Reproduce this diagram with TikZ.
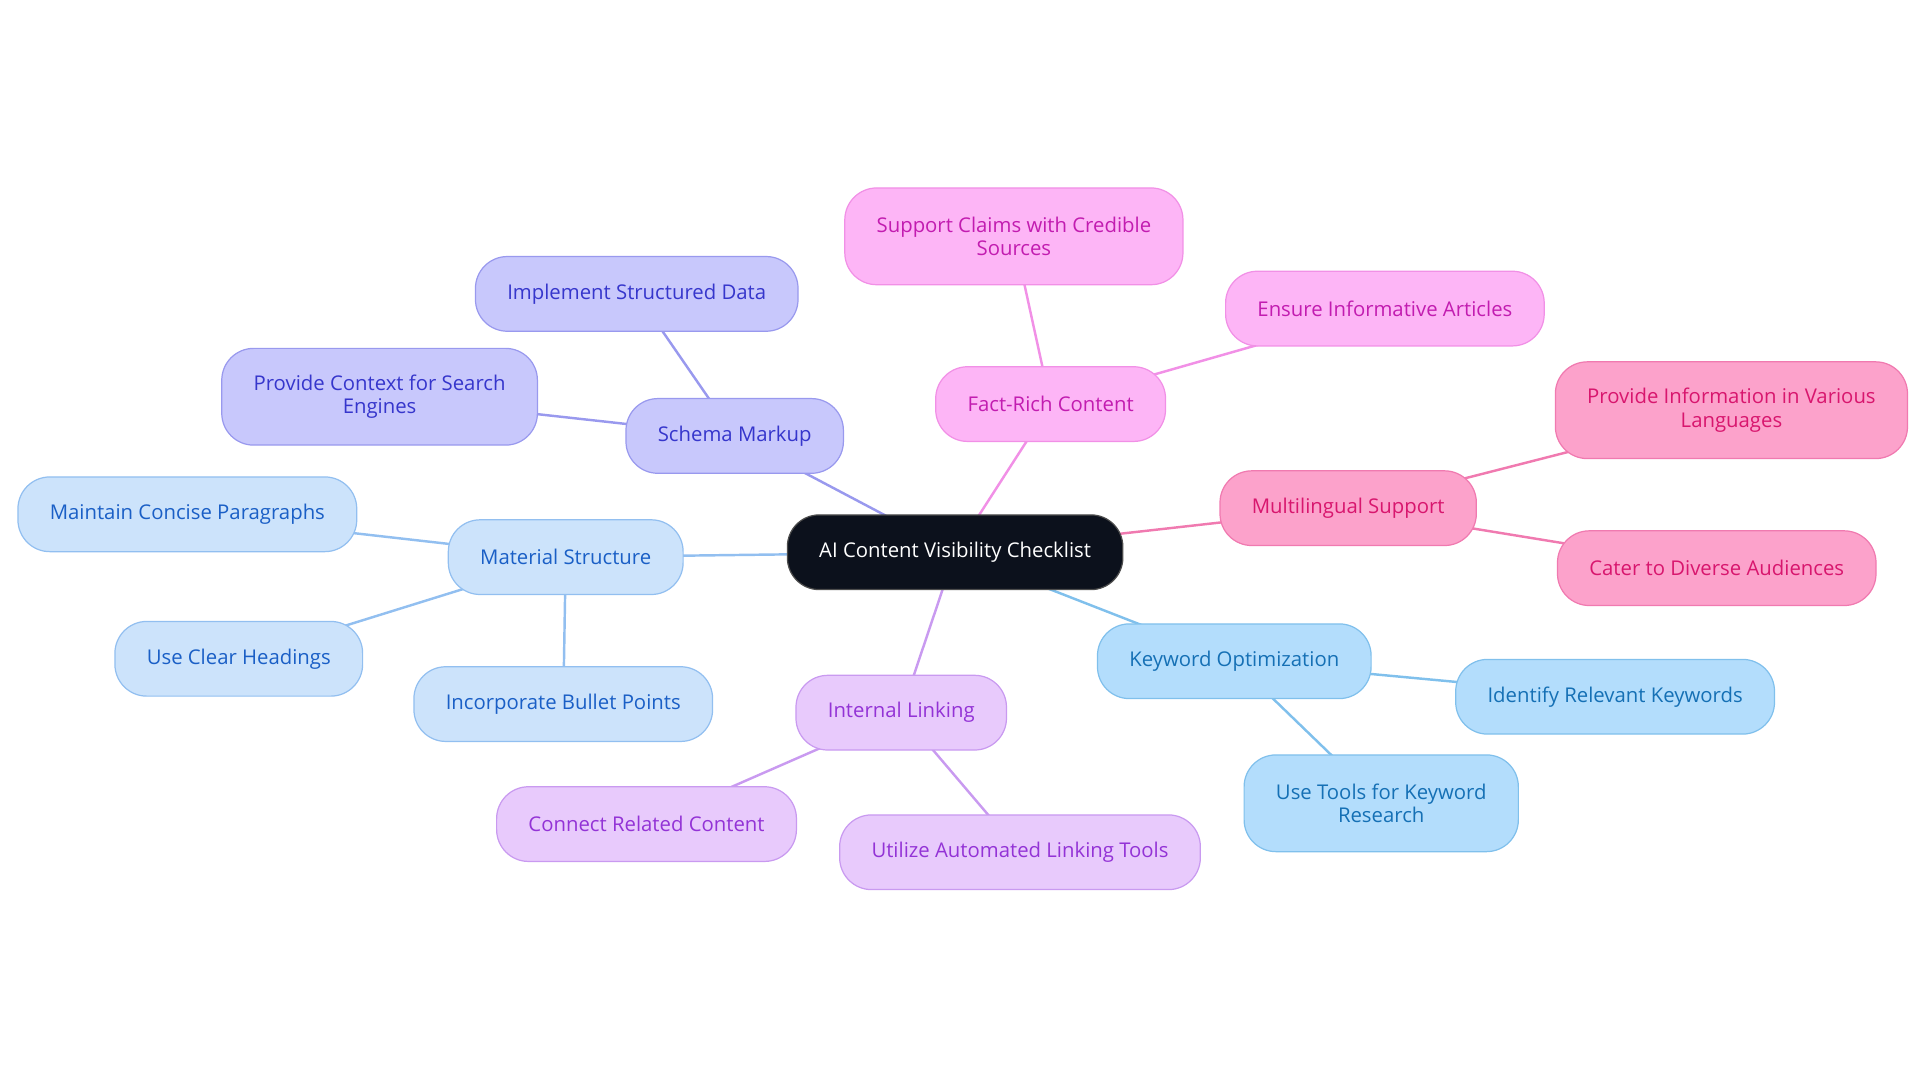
\documentclass[tikz,border=0pt]{standalone}
\usepackage{fontspec}
\setmainfont{Open Sans}
\usetikzlibrary{backgrounds}

\definecolor{rootfill}{HTML}{0C111C}
\definecolor{msfill}{HTML}{CCE3FB}\definecolor{msline}{HTML}{92BFF0}\definecolor{mstext}{HTML}{1A5FC6}
\definecolor{smfill}{HTML}{C8C8FC}\definecolor{smline}{HTML}{9999EE}\definecolor{smtext}{HTML}{3636CC}
\definecolor{frfill}{HTML}{FDB5F6}\definecolor{frline}{HTML}{F190E6}\definecolor{frtext}{HTML}{C21CB0}
\definecolor{mlfill}{HTML}{FCA2CB}\definecolor{mlline}{HTML}{F07AB0}\definecolor{mltext}{HTML}{D8166E}
\definecolor{kofill}{HTML}{B3DDFC}\definecolor{koline}{HTML}{80C0EC}\definecolor{kotext}{HTML}{1570B5}
\definecolor{ilfill}{HTML}{E8CAFC}\definecolor{illine}{HTML}{C99AF0}\definecolor{iltext}{HTML}{9333D6}

\tikzset{
 box/.style={rectangle,rounded corners=26pt,minimum height=61pt,inner xsep=26pt,
  align=center,font=\fontsize{16.6}{19}\selectfont,line width=1pt},
 tall/.style={minimum height=79pt},
 ms/.style={box,fill=msfill,draw=msline,text=mstext},
 sm/.style={box,fill=smfill,draw=smline,text=smtext},
 fr/.style={box,fill=frfill,draw=frline,text=frtext},
 ml/.style={box,fill=mlfill,draw=mlline,text=mltext},
 ko/.style={box,fill=kofill,draw=koline,text=kotext},
 il/.style={box,fill=ilfill,draw=illine,text=iltext},
 link/.style={line width=2pt}
}

\begin{document}
\begin{tikzpicture}[x=1pt,y=-1pt]
 \useasboundingbox (0,0) rectangle (1568,884);
 % root
 \node[box,fill=rootfill,draw=black!70,text=white] (root) at (780,451) {AI Content Visibility Checklist};
 % material structure
 \node[ms] (mat) at (462,455) {Material Structure};
 \node[ms] (para) at (153,420) {Maintain Concise Paragraphs};
 \node[ms] (head) at (195,538) {Use Clear Headings};
 \node[ms] (bull) at (460,575) {Incorporate Bullet Points};
 % schema markup
 \node[sm] (schema) at (600,356) {Schema Markup};
 \node[sm] (struct) at (520,240) {Implement Structured Data};
 \node[sm,tall] (context) at (310,324) {Provide Context for Search\\Engines};
 % fact-rich content
 \node[fr] (fact) at (858,330) {Fact-Rich Content};
 \node[fr,tall] (claims) at (828,193) {Support Claims with Credible\\Sources};
 \node[fr] (inform) at (1131,252) {Ensure Informative Articles};
 % multilingual support
 \node[ml] (multi) at (1101,415) {Multilingual Support};
 \node[ml,tall] (lang) at (1414,335) {Provide Information in Various\\Languages};
 \node[ml] (aud) at (1402,464) {Cater to Diverse Audiences};
 % keyword optimization
 \node[ko] (key) at (1008,540) {Keyword Optimization};
 \node[ko] (relev) at (1319,569) {Identify Relevant Keywords};
 \node[ko,tall] (tools) at (1128,656) {Use Tools for Keyword\\Research};
 % internal linking
 \node[il] (intl) at (736,582) {Internal Linking};
 \node[il] (conn) at (528,673) {Connect Related Content};
 \node[il] (auto) at (833,696) {Utilize Automated Linking Tools};

 \begin{scope}[on background layer]
  \draw[link,msline] (root.center) -- (mat.center);
  \draw[link,msline] (mat.center) -- (para.center);
  \draw[link,msline] (mat.center) -- (head.center);
  \draw[link,msline] (mat.center) -- (bull.center);
  \draw[link,smline] (root.center) -- (schema.center);
  \draw[link,smline] (schema.center) -- (struct.center);
  \draw[link,smline] (schema.center) -- (context.center);
  \draw[link,frline] (root.center) -- (fact.center);
  \draw[link,frline] (fact.center) -- (claims.center);
  \draw[link,frline] (fact.center) -- (inform.center);
  \draw[link,mlline] (root.center) -- (multi.center);
  \draw[link,mlline] (multi.center) -- (lang.center);
  \draw[link,mlline] (multi.center) -- (aud.center);
  \draw[link,koline] (root.center) -- (key.center);
  \draw[link,koline] (key.center) -- (relev.center);
  \draw[link,koline] (key.center) -- (tools.center);
  \draw[link,illine] (root.center) -- (intl.center);
  \draw[link,illine] (intl.center) -- (conn.center);
  \draw[link,illine] (intl.center) -- (auto.center);
 \end{scope}
\end{tikzpicture}
\end{document}
